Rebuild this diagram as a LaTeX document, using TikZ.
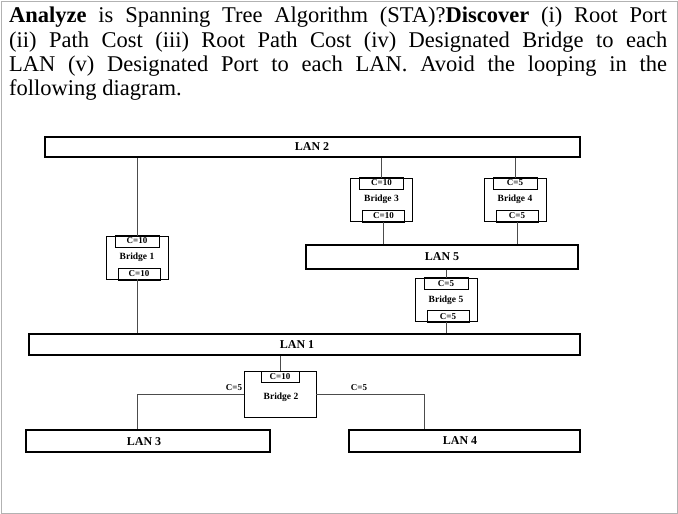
\documentclass[tikz,border=0pt]{standalone}
\usepackage{fontspec}
\setmainfont{Liberation Serif}
\begin{document}
\begin{tikzpicture}[x=1pt,y=-1pt,
 lan/.style={draw,line width=1.8pt,inner sep=0},
 br/.style={draw,line width=0.7pt,inner sep=0},
 pt/.style={draw,line width=0.7pt,inner sep=0,font=\fontsize{9}{9}\selectfont\bfseries},
 lbl/.style={font=\fontsize{12}{12}\selectfont\bfseries},
 bn/.style={font=\fontsize{9.5}{10}\selectfont\bfseries},
 ln/.style={line width=0.8pt,draw=black!70},
 tl/.style={anchor=base west,inner sep=0,font=\fontsize{22.5}{24}\selectfont}]
\useasboundingbox (0,0) rectangle (678,514);
\draw[gray!60] (1,1) rectangle (677,513);
\node[tl] (t1) at (9,23) {\makebox[658pt][s]{\textbf{Analyze} is Spanning Tree Algorithm (STA)?\textbf{Discover} (i) Root Port}};
\node[tl] (t2) at (9,47) {\makebox[658pt][s]{(ii) Path Cost (iii) Root Path Cost (iv) Designated Bridge to each}};
\node[tl] (t3) at (9,71) {\makebox[658pt][s]{LAN (v) Designated Port to each LAN. Avoid the looping in the}};
\node[tl] (t4) at (9,95) {following diagram.};
% LANs
\node[lan,minimum width=535,minimum height=20] (lan2) at (312.5,147) {};
\node[lbl] at (312,147) {LAN 2};
\node[lan,minimum width=272,minimum height=24] (lan5) at (442,257) {};
\node[lbl] at (442,257) {LAN 5};
\node[lan,minimum width=551,minimum height=21] (lan1) at (304.5,344.5) {};
\node[lbl] at (297,345) {LAN 1};
\node[lan,minimum width=244,minimum height=22] (lan3) at (148,441) {};
\node[lbl] at (144,442) {LAN 3};
\node[lan,minimum width=231,minimum height=22] (lan4) at (464.5,441) {};
\node[lbl] at (460,441) {LAN 4};
% Bridges
\foreach \n/\x/\y/\t/\b in {b3/381.5/199.5/C=10/C=10, b4/515/199.5/C=5/C=5, b1/137/257.5/C=10/C=10, b5/446/300/C=5/C=5}{
 \node[br,minimum width=62,minimum height=43] (\n) at (\x,\y) {};
 \node[pt,minimum width=44,minimum height=12,anchor=north] (\n t) at ([yshift=1]\n.north) {\t};
 \node[pt,minimum width=42,minimum height=12,anchor=south] (\n b) at ([xshift=2,yshift=-1]\n.south) {\b};
}
\node[bn] (b3n) at (b3) {Bridge 3};
\node[bn] (b4n) at (b4) {Bridge 4};
\node[bn] (b1n) at (b1) {Bridge 1};
\node[bn] (b5n) at (b5) {Bridge 5};
\node[br,minimum width=72,minimum height=46] (b2) at (280,394) {};
\node[pt,minimum width=38,minimum height=11,anchor=north] (b2t) at (b2.north) {C=10};
\node[bn] (b2n) at (281,397) {Bridge 2};
\node[pt,draw=none] (c5l) at (234,388) {C=5};
\node[pt,draw=none] (c5r) at (359,388) {C=5};
% connectors
\draw[ln] (lan2.south -| b3t) -- (b3.north);
\draw[ln] (lan2.south -| b4t) -- (b4.north);
\draw[ln] (b3b.south) -- (lan5.north -| b3b);
\draw[ln] (b4b.south) -- (lan5.north -| b4b);
\draw[ln] (lan2.south -| b1) -- (b1.north);
\draw[ln] (b1.south) -- (lan1.north -| b1);
\draw[ln] (lan5.south -| b5) -- (b5.north);
\draw[ln] (b5.south) -- (lan1.north -| b5);
\draw[ln] (lan1.south -| b2t) -- (b2.north -| b2t);
\coordinate (l3c) at (137,394);
\coordinate (l4c) at (424,394);
\draw[ln] (b2.west |- l3c) -- (l3c) -- (lan3.north -| l3c);
\draw[ln] (b2.east |- l4c) -- (l4c) -- (lan4.north -| l4c);
\end{tikzpicture}
\end{document}
